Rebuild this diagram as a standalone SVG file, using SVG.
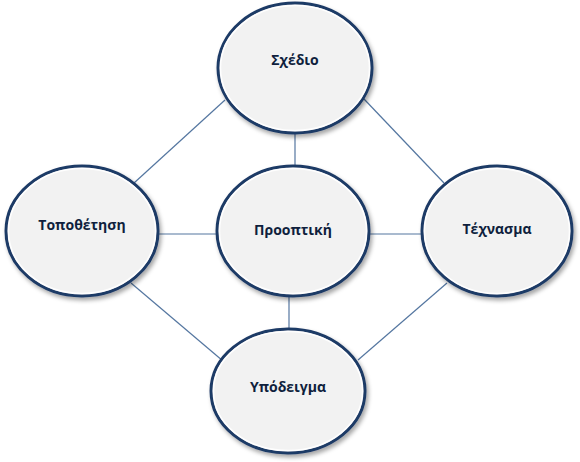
<svg xmlns="http://www.w3.org/2000/svg" width="580" height="462" viewBox="0 0 580 462">
<defs>
<filter id="sh" x="-20%" y="-20%" width="140%" height="140%">
<feDropShadow dx="2" dy="3" stdDeviation="2" flood-color="#000" flood-opacity="0.35"/>
</filter>
<style>
.conn line{stroke:#5476a0;stroke-width:1.2}
.outer{fill:#f2f2f2;stroke:#1f3a66;stroke-width:3;filter:url(#sh)}
.inner{fill:none;stroke:#ffffff;stroke-width:1.5;opacity:0.9}
.lbl{font-family:"Open Sans","Liberation Sans",sans-serif;font-weight:bold;font-size:14px;fill:#0f1f3d;text-anchor:middle}
</style>
</defs>
<rect width="580" height="462" fill="#ffffff"/>
<g id="connectors" class="conn">
<line x1="295" y1="133" x2="295" y2="166"/>
<line x1="289" y1="296" x2="289" y2="329"/>
<line x1="158" y1="234" x2="217" y2="234"/>
<line x1="369" y1="234" x2="423" y2="234"/>
<line x1="225" y1="100" x2="134" y2="183"/>
<line x1="364" y1="99" x2="444" y2="183"/>
<line x1="131" y1="283" x2="223" y2="361"/>
<line x1="447" y1="283" x2="358" y2="360"/>
</g>
<g id="node-sxedio">
<ellipse class="outer" cx="295" cy="68" rx="77" ry="65"/>
<ellipse class="inner" cx="295" cy="68" rx="74.5" ry="62.5"/>
<text class="lbl" x="295" y="65">Σχέδιο</text>
</g>
<g id="node-topothetisi">
<ellipse class="outer" cx="82" cy="231" rx="76" ry="65"/>
<ellipse class="inner" cx="82" cy="231" rx="73.5" ry="62.5"/>
<text class="lbl" x="82" y="230">Τοποθέτηση</text>
</g>
<g id="node-prooptiki">
<ellipse class="outer" cx="293" cy="231" rx="76" ry="65"/>
<ellipse class="inner" cx="293" cy="231" rx="73.5" ry="62.5"/>
<text class="lbl" x="293" y="235">Προοπτική</text>
</g>
<g id="node-texnasma">
<ellipse class="outer" cx="497" cy="231" rx="75" ry="65"/>
<ellipse class="inner" cx="497" cy="231" rx="72.5" ry="62.5"/>
<text class="lbl" x="497" y="234">Τέχνασμα</text>
</g>
<g id="node-ypodeigma">
<ellipse class="outer" cx="288" cy="391" rx="77" ry="62"/>
<ellipse class="inner" cx="288" cy="391" rx="74.5" ry="59.5"/>
<text class="lbl" x="288" y="392">Υπόδειγμα</text>
</g>
</svg>
